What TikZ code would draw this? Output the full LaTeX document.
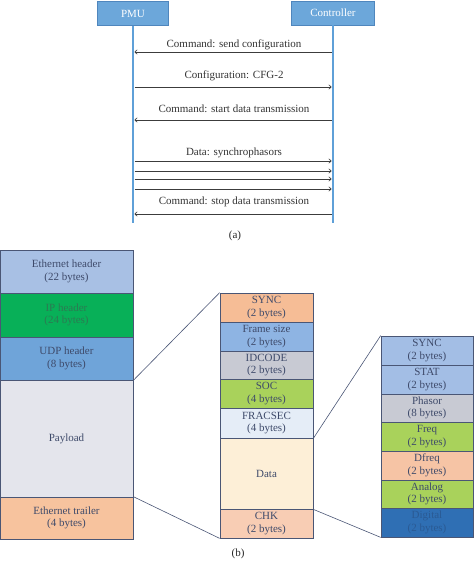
\documentclass[tikz,border=0pt]{standalone}
\usepackage{fontspec}
\setmainfont{Liberation Serif}
\usetikzlibrary{arrows.meta}
\definecolor{life}{HTML}{5FA0D8}
\definecolor{actorfill}{HTML}{6CA7DA}
\definecolor{lifebord}{HTML}{4F86BD}
\definecolor{bord}{HTML}{4A5675}
\definecolor{txt}{HTML}{3E4A6A}
\definecolor{ethc}{HTML}{A8C0E4}
\definecolor{ipc}{HTML}{08B058}
\definecolor{iptxt}{HTML}{2C7A52}
\definecolor{udpc}{HTML}{6FA4D9}
\definecolor{payc}{HTML}{E4E5EC}
\definecolor{trlc}{HTML}{F7C39E}
\definecolor{peach}{HTML}{F6BD96}
\definecolor{fsc}{HTML}{8EB4E3}
\definecolor{grayc}{HTML}{C8CAD3}
\definecolor{grn}{HTML}{A9D25B}
\definecolor{fracc}{HTML}{E5EDF7}
\definecolor{datac}{HTML}{FDEFD7}
\definecolor{chkc}{HTML}{F8CDB4}
\definecolor{rblue}{HTML}{A3BEE5}
\definecolor{dfrc}{HTML}{F6C4A5}
\definecolor{digc}{HTML}{2F6FB4}
\definecolor{digtxt}{HTML}{2A5A94}
\definecolor{arr}{HTML}{3C3C3C}
\begin{document}
\begin{tikzpicture}[x=1pt,y=-1pt,
  font=\fontsize{11}{12.5}\selectfont,
  actor/.style={draw=lifebord, fill=actorfill, text=white, minimum height=24pt, inner sep=0pt},
  lifeline/.style={draw=life, line width=2.6pt},
  msg/.style={draw=arr, line width=0.6pt, -{To[length=3pt,width=5pt]}},
  lbl/.style={text=black!80, inner sep=0pt},
  cell/.style={draw=bord, line width=0.7pt, inner sep=0pt, align=center, text=txt},
  lcell/.style={cell, minimum width=133pt},
  mcell/.style={cell, minimum width=93pt},
  rcell/.style={cell, minimum width=92pt},
  link/.style={draw=bord, line width=0.6pt},
  captext/.style={text=black!85, inner sep=0pt}]
\useasboundingbox (0,0) rectangle (474,576);

% ---------- (a) sequence ----------
\node[actor, minimum width=71pt] (pmu) at (133,13.5) {PMU};
\node[actor, minimum width=83pt] (ctl) at (333,13) {Controller};
\coordinate (pmuend) at (133,223);
\coordinate (ctlend) at (333,223);
\draw[lifeline] (pmu.south) -- (pmuend);
\draw[lifeline] (ctl.south) -- (ctlend);

\foreach \i/\y in {1/52,2/87,3/120,4/161,5/171,6/179,7/189,8/214}{
  \coordinate (p\i) at (134.5,\y);
  \coordinate (c\i) at (331.5,\y);
}
\draw[msg] (c1) -- (p1);
\draw[msg] (p2) -- (c2);
\draw[msg] (c3) -- (p3);
\draw[msg] (p4) -- (c4);
\draw[msg] (p5) -- (c5);
\draw[msg] (p6) -- (c6);
\draw[msg] (p7) -- (c7);
\draw[msg] (c8) -- (p8);

\node[lbl] (l1) at (234,45) {Command: send configuration};
\node[lbl] (l2) at (234,76) {Configuration: CFG-2};
\node[lbl] (l3) at (234,109) {Command: start data transmission};
\node[lbl] (l4) at (234,153) {Data: synchrophasors};
\node[lbl] (l5) at (234,202) {Command: stop data transmission};
\node[captext] (capa) at (235,236) {(a)};

% ---------- (b) structure ----------
\node[lcell, fill=ethc, minimum height=43pt] (eth) at (66.5,271.5) {Ethernet header\\(22 bytes)};
\node[lcell, fill=ipc, text=iptxt, minimum height=44pt] (ip) at (66.5,315) {IP header\\(24 bytes)};
\node[lcell, fill=udpc, minimum height=43pt] (udp) at (66.5,358.5) {UDP header\\(8 bytes)};
\node[lcell, fill=payc, minimum height=117pt] (pay) at (66.5,438.5) {Payload};
\node[lcell, fill=trlc, minimum height=42pt] (trl) at (66.5,518) {Ethernet trailer\\(4 bytes)};

\node[mcell, fill=peach, minimum height=29pt] (msync) at (266.5,307.5) {SYNC\\(2 bytes)};
\node[mcell, fill=fsc, minimum height=29pt] (mfs) at (266.5,336.5) {Frame size\\(2 bytes)};
\node[mcell, fill=grayc, minimum height=28pt] (mid) at (266.5,365) {IDCODE\\(2 bytes)};
\node[mcell, fill=grn, minimum height=29pt] (msoc) at (266.5,393.5) {SOC\\(4 bytes)};
\node[mcell, fill=fracc, minimum height=30pt] (mfrac) at (266.5,423) {FRACSEC\\(4 bytes)};
\node[mcell, fill=datac, minimum height=71pt] (mdata) at (266.5,473.5) {Data};
\node[mcell, fill=chkc, minimum height=29pt] (mchk) at (266.5,523.5) {CHK\\(2 bytes)};

\node[rcell, fill=rblue, minimum height=29pt] (rsync) at (427,350.5) {SYNC\\(2 bytes)};
\node[rcell, fill=rblue, minimum height=29pt] (rstat) at (427,379.5) {STAT\\(2 bytes)};
\node[rcell, fill=grayc, minimum height=28pt] (rph) at (427,408) {Phasor\\(8 bytes)};
\node[rcell, fill=grn, minimum height=29pt] (rfr) at (427,436.5) {Freq\\(2 bytes)};
\node[rcell, fill=dfrc, minimum height=29pt] (rdf) at (427,465.5) {Dfreq\\(2 bytes)};
\node[rcell, fill=grn, minimum height=28pt] (ran) at (427,494) {Analog\\(2 bytes)};
\node[rcell, fill=digc, text=digtxt, minimum height=29pt] (rdig) at (427,522.5) {Digital\\(2 bytes)};

\draw[link] (udp.south east) -- (msync.north west);
\draw[link] (trl.north east) -- (mchk.south west);
\draw[link] (mfrac.south east) -- (rsync.north west);
\draw[link] (mdata.south east) -- (rdig.south west);

\node[captext] (capb) at (238,554) {(b)};
\end{tikzpicture}
\end{document}
